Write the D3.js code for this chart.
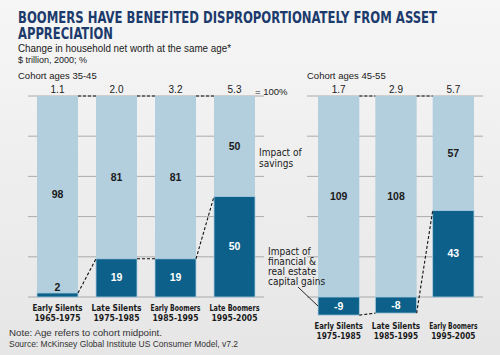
<!DOCTYPE html>
<html><head><meta charset="utf-8">
<script src="https://cdn.jsdelivr.net/npm/d3@7"></script>
<style>
html,body{margin:0;padding:0;width:500px;height:355px;overflow:hidden;}
svg{display:block;font-family:"Liberation Sans",Arial,sans-serif;}
.nar{font-family:"Liberation Sans Narrow","Arial Narrow","DejaVu Sans Condensed",sans-serif;}
</style></head>
<body>
<svg id="c" width="500" height="355"></svg>
<script>
// ---- data ----
const leftNames = ["Early Silents","Late Silents","Early Boomers","Late Boomers"];
const leftYears = ["1965-1975","1975-1985","1985-1995","1995-2005"];
const leftTotals = ["1.1","2.0","3.2","5.3"];
const leftGains = [2,19,19,50];
const leftSavings = [98,81,81,50];

const rightNames = ["Early Silents","Late Silents","Early Boomers"];
const rightYears = ["1975-1985","1985-1995","1995-2005"];
const rightTotals = ["1.7","2.9","5.7"];
const rightGains = [-9,-8,43];
const rightSavings = [109,108,57];

const gridTicks = [0,20,40,60,80,100];

// ---- drawing ----
const svg = d3.select("#c");
const defs = svg.append("defs");
const g = defs.append("linearGradient").attr("id","bg").attr("x1",0).attr("y1",0).attr("x2",0).attr("y2",1);
g.append("stop").attr("offset","0%").attr("stop-color","#f6f6f6");
g.append("stop").attr("offset","100%").attr("stop-color","#e6e6e6");
svg.append("rect").attr("width",500).attr("height",355).attr("fill","url(#bg)");

const navy = "#1c3b6c", light = "#b3cedd", dark = "#0c6089", txt = "#1a1a1a";

function fit(sel, maxW) {
  sel.each(function(){
    const w = this.getComputedTextLength();
    if (w > maxW) d3.select(this).attr("textLength",maxW).attr("lengthAdjust","spacingAndGlyphs");
  });
}

fit(svg.append("text").attr("class","nar").attr("x",18).attr("y",23).attr("fill",navy).attr("font-weight","bold")
  .attr("font-size",15.5)
  .text("BOOMERS HAVE BENEFITED DISPROPORTIONATELY FROM ASSET"), 419);
fit(svg.append("text").attr("class","nar").attr("x",18).attr("y",39).attr("fill",navy).attr("font-weight","bold")
  .attr("font-size",15.5)
  .text("APPRECIATION"), 95);
fit(svg.append("text").attr("x",18).attr("y",52).attr("fill",txt).attr("font-size",10.5)
  .text("Change in household net worth at the same age*"), 213);
svg.append("text").attr("x",18).attr("y",62.5).attr("fill",txt).attr("font-size",9)
  .text("$ trillion, 2000; %");
svg.append("text").attr("x",18).attr("y",79).attr("fill",txt).attr("font-size",9.5).text("Cohort ages 35-45");
svg.append("text").attr("x",307).attr("y",79).attr("fill",txt).attr("font-size",9.5).text("Cohort ages 45-55");

const y = d3.scaleLinear().domain([0,100]).range([297,96]);

function panel(names, years, totals, gains, savings, gx0, gx1, bx0, bx1, pin) {
  const x = d3.scaleBand().domain(names).range([bx0,bx1]).paddingInner(pin).paddingOuter(pin/2);
  const bw = x.bandwidth();
  svg.append("g").selectAll("line").data(gridTicks).join("line")
    .attr("x1",gx0).attr("x2",gx1).attr("y1",d=>y(d)).attr("y2",d=>y(d))
    .attr("stroke","#9a9a9a").attr("stroke-width",0.8);
  const data = names.map((n,i)=>({n, yr:years[i], t:totals[i], gn:gains[i], sv:savings[i]}));
  const grp = svg.append("g");
  data.forEach(d=>{
    const xl = x(d.n);
    const top = d.gn + d.sv;
    let lightTop, lightBot;
    if (d.gn >= 0) { lightTop = y(top); lightBot = y(d.gn); }
    else { lightTop = y(top); lightBot = y(0); }
    grp.append("rect").attr("x",xl).attr("y",lightTop).attr("width",bw).attr("height",lightBot-lightTop)
      .attr("fill",light);
    const dy0 = Math.min(y(0),y(d.gn)), dy1 = Math.max(y(0),y(d.gn));
    grp.append("rect").attr("x",xl).attr("y",dy0).attr("width",bw).attr("height",dy1-dy0)
      .attr("fill",dark).attr("stroke","#a9cde0").attr("stroke-width",0.8);
    grp.append("text").attr("x",xl+bw/2).attr("y",(lightTop+lightBot)/2+3.5).attr("text-anchor","middle")
      .attr("font-size",10.5).attr("font-weight","bold").attr("fill",txt).text(d.sv);
    if (dy1-dy0 < 10) {
      grp.append("text").attr("x",xl+bw/2).attr("y",dy0-2).attr("text-anchor","middle")
        .attr("font-size",10.5).attr("font-weight","bold").attr("fill",txt).text(d.gn);
    } else {
      grp.append("text").attr("x",xl+bw/2).attr("y",(dy0+dy1)/2+3.5).attr("text-anchor","middle")
        .attr("font-size",10.5).attr("font-weight","bold").attr("fill","#fff").text(d.gn);
    }
    grp.append("text").attr("x",xl+bw/2).attr("y",lightTop-3).attr("text-anchor","middle")
      .attr("font-size",10).attr("fill",txt).text(d.t);
  });
  const bottom = d3.max(data,d=>y(Math.min(0,d.gn)));
  data.forEach(d=>{
    const xl = x(d.n);
    const t1 = grp.append("text").attr("class","nar").attr("text-anchor","middle").attr("font-size",9.5).attr("font-weight","bold").attr("fill",txt)
      .attr("x",xl+bw/2).attr("y",bottom+14).text(d.n);
    const t2 = grp.append("text").attr("class","nar").attr("text-anchor","middle").attr("font-size",9.5).attr("font-weight","bold").attr("fill",txt)
      .attr("x",xl+bw/2).attr("y",bottom+24).text(d.yr);
    fit(t1, x.step()-9); fit(t2, x.step()-13);
  });
  for (let i=0;i<data.length-1;i++){
    const a=data[i], b=data[i+1];
    const xa = x(a.n)+bw, xb = x(b.n);
    grp.append("line").attr("x1",xa).attr("x2",xb).attr("y1",y(a.gn+a.sv)).attr("y2",y(b.gn+b.sv))
      .attr("stroke","#111").attr("stroke-width",1.1).attr("stroke-dasharray","3,2");
    grp.append("line").attr("x1",xa).attr("x2",xb).attr("y1",y(a.gn)).attr("y2",y(b.gn))
      .attr("stroke","#111").attr("stroke-width",1.1).attr("stroke-dasharray","3,2");
  }
  return {x,bw,data};
}

panel(leftNames,leftYears,leftTotals,leftGains,leftSavings,28,264,28,264,18/59);
const R = panel(rightNames,rightYears,rightTotals,rightGains,rightSavings,307,483,310,482,0.28);

svg.append("text").attr("x",255).attr("y",95).attr("font-size",9.5).attr("fill",txt).text("= 100%");
const a1 = svg.append("text").attr("class","nar").attr("font-size",10).attr("fill",txt);
a1.append("tspan").attr("x",259).attr("y",156).text("Impact of");
a1.append("tspan").attr("x",259).attr("y",167).text("savings");
const a2 = svg.append("text").attr("class","nar").attr("font-size",10).attr("fill",txt);
["Impact of","financial &","real estate","capital gains"].forEach((s,i)=>
  a2.append("tspan").attr("x",268).attr("y",255+i*10).text(s));
svg.append("line").attr("x1",298).attr("y1",287).attr("x2",R.x(rightNames[0])).attr("y2",y(rightGains[0]/2))
  .attr("stroke","#111").attr("stroke-width",0.9);

const n = svg.append("text").attr("font-size",9).attr("fill","#333");
n.append("tspan").attr("x",9).attr("y",336).attr("textLength",153).attr("lengthAdjust","spacingAndGlyphs").text("Note: Age refers to cohort midpoint.");
n.append("tspan").attr("x",9).attr("y",347).attr("textLength",229).attr("lengthAdjust","spacingAndGlyphs").text("Source: McKinsey Global Institute US Consumer Model, v7.2");
</script>
</body></html>
